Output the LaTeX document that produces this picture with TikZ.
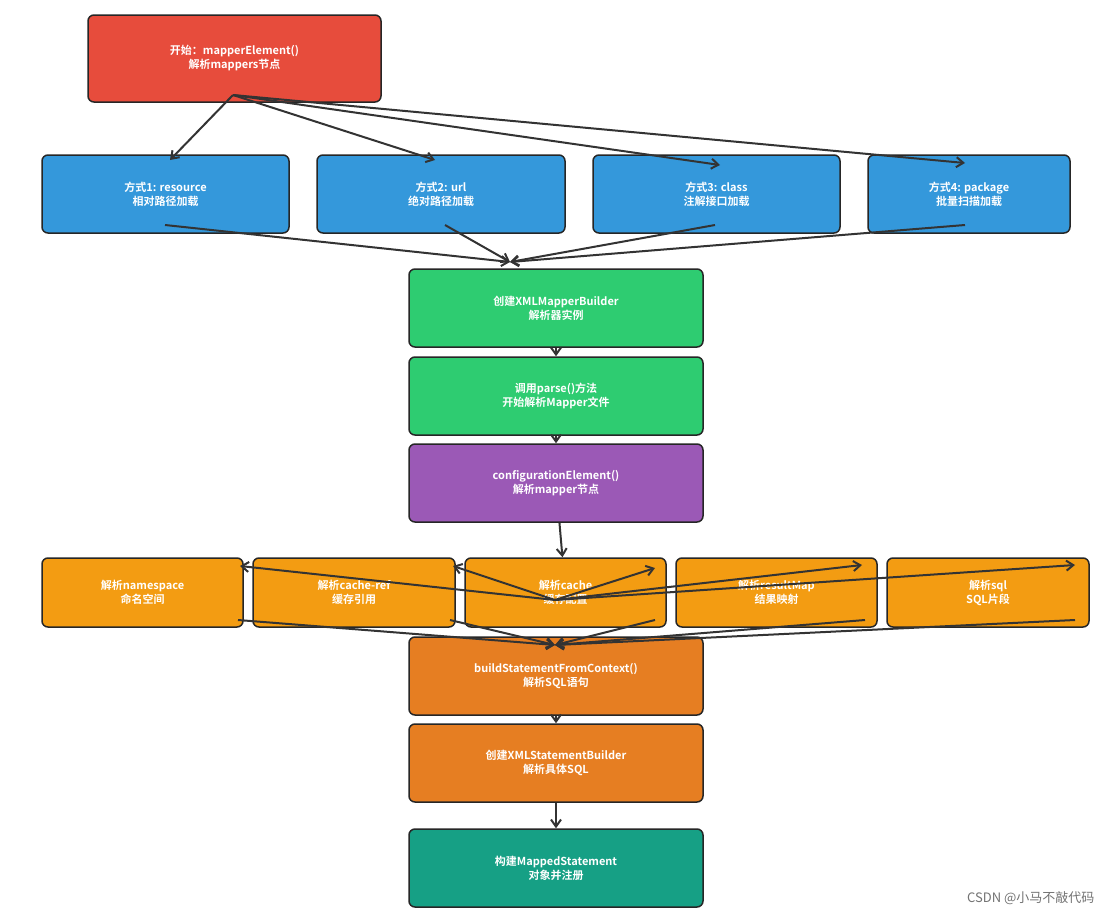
\documentclass[tikz,border=0pt]{standalone}
\usepackage{fontspec}
\setmainfont{Noto Sans CJK SC}[BoldFont={Noto Sans CJK SC Bold}]
\usetikzlibrary{arrows.meta}
\definecolor{cred}{HTML}{E74C3C}
\definecolor{cblue}{HTML}{3498DB}
\definecolor{cgreen}{HTML}{2ECC71}
\definecolor{cpurple}{HTML}{9B59B6}
\definecolor{corange}{HTML}{F39C12}
\definecolor{cdorange}{HTML}{E67E22}
\definecolor{cteal}{HTML}{16A085}
\definecolor{cline}{HTML}{333333}
\tikzset{
 box/.style={draw=black!85,line width=1.5pt,rounded corners=6pt,text=white,font=\bfseries\fontsize{11}{14}\selectfont,align=center,inner sep=0pt},
 arr/.style={draw=cline,line width=2pt,-{Straight Barb[length=7pt,width=10pt]}}
}
\newcommand{\bx}[7]{\node[box,fill=#6,minimum width={#3-#1},minimum height={#4-#2}] (#5) at ({(#1+#3)/2},{(#2+#4)/2}) {#7};}
\begin{document}
\begin{tikzpicture}[x=1pt,y=-1pt]
\useasboundingbox[fill=white] (0,0) rectangle (1103,918);
\bx{88}{15}{381}{102}{start}{cred}{开始：mapperElement()\\解析mappers节点}
\bx{42}{155}{289}{233}{b1}{cblue}{方式1: resource\\相对路径加载}
\bx{317}{155}{565}{233}{b2}{cblue}{方式2: url\\绝对路径加载}
\bx{593}{155}{840}{233}{b3}{cblue}{方式3: class\\注解接口加载}
\bx{868}{155}{1070}{233}{b4}{cblue}{方式4: package\\批量扫描加载}
\bx{409}{269}{703}{347}{g1}{cgreen}{创建XMLMapperBuilder\\解析器实例}
\bx{409}{357}{703}{435}{g2}{cgreen}{调用parse()方法\\开始解析Mapper文件}
\bx{409}{444}{703}{522}{p}{cpurple}{configurationElement()\\解析mapper节点}
\bx{42}{558}{243}{627}{o1}{corange}{解析namespace\\命名空间}
\bx{253}{558}{455}{627}{o2}{corange}{解析cache-ref\\缓存引用}
\bx{465}{558}{666}{627}{o3}{corange}{解析cache\\缓存配置}
\bx{676}{558}{877}{627}{o4}{corange}{解析resultMap\\结果映射}
\bx{887}{558}{1089}{627}{o5}{corange}{解析sql\\SQL片段}
\bx{409}{637}{703}{715}{d1}{cdorange}{buildStatementFromContext()\\解析SQL语句}
\bx{409}{724}{703}{802}{d2}{cdorange}{创建XMLStatementBuilder\\解析具体SQL}
\bx{409}{829}{703}{907}{t}{cteal}{构建MappedStatement\\对象并注册}
\node[text=black!55,font=\fontsize{13}{15}\selectfont,anchor=east] (wm) at (1098,898) {CSDN @小马不敲代码};
% start fan-out
\coordinate (s0) at (233,95);
\coordinate (b1t) at (170,160); \coordinate (b2t) at (435,160);
\coordinate (b3t) at (720,165); \coordinate (b4t) at (965,163);
\foreach \c in {b1t,b2t,b3t,b4t} \draw[arr] (s0) -- (\c);
% blue merge
\coordinate (m1) at (510,262);
\coordinate (b1b) at (165,225); \coordinate (b2b) at (445,225);
\coordinate (b3b) at (715,225); \coordinate (b4b) at (965,225);
\foreach \c in {b1b,b2b,b3b,b4b} \draw[arr] (\c) -- (m1);
\draw[arr] (g1) -- (g2);
\draw[arr] (g2) -- (p);
\draw[arr] (p) -- (o3);
% orange fan-out
\coordinate (f0) at (555,600);
\coordinate (o1t) at (240,566); \coordinate (o2t) at (453,566);
\coordinate (o3t) at (655,568); \coordinate (o4t) at (862,565);
\coordinate (o5t) at (1075,565);
\foreach \c in {o1t,o2t,o3t,o4t,o5t} \draw[arr] (f0) -- (\c);
% orange merge
\coordinate (m2) at (555,645);
\coordinate (o1b) at (238,620); \coordinate (o2b) at (450,620);
\coordinate (o3b) at (655,620); \coordinate (o4b) at (865,620);
\coordinate (o5b) at (1075,620);
\foreach \c in {o1b,o2b,o3b,o4b,o5b} \draw[arr] (\c) -- (m2);
\draw[arr] (d1) -- (d2);
\draw[arr] (d2) -- (t);
\end{tikzpicture}
\end{document}
